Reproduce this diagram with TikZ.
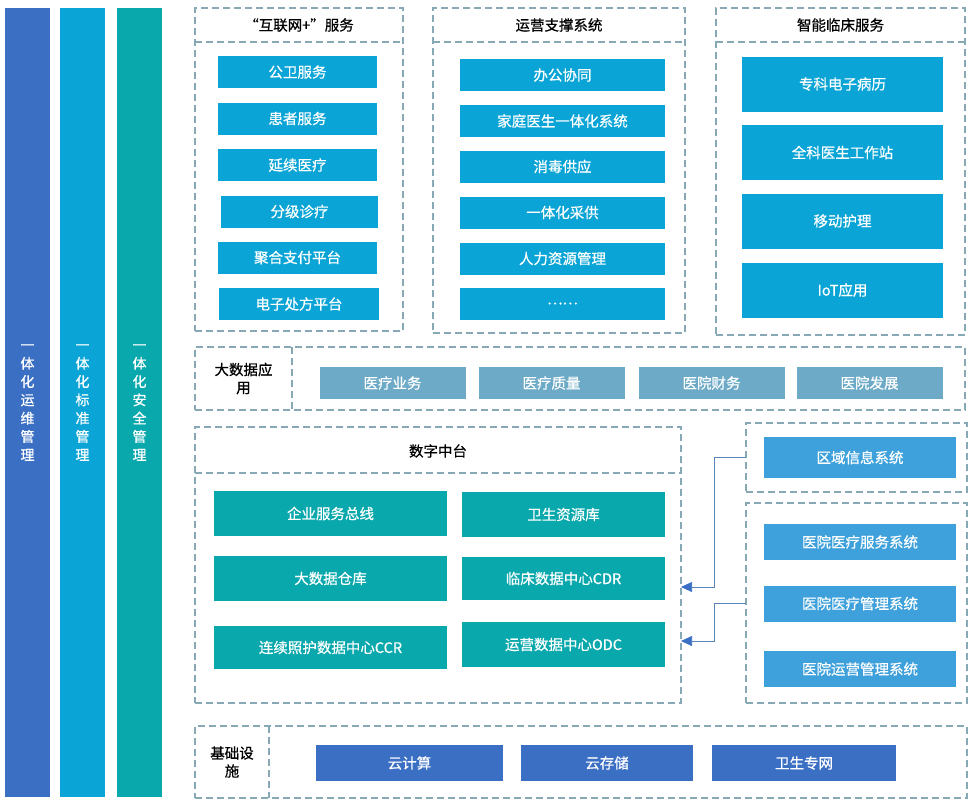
\documentclass[tikz,border=0pt]{standalone}
\usepackage{fontspec}
\setmainfont{Noto Sans CJK SC}
\newfontfamily\boxfont{Noto Sans CJK SC}[FakeBold=0.6]
\usetikzlibrary{positioning}
\usetikzlibrary{calc}
\usetikzlibrary{arrows.meta}
\usepackage{xcolor}

\definecolor{bluec}{HTML}{3A6FC4}
\definecolor{cyanc}{HTML}{0AA5D6}
\definecolor{tealc}{HTML}{08A8AC}
\definecolor{steelc}{HTML}{6CAAC7}
\definecolor{skyc}{HTML}{3EA1DB}
\definecolor{dashc}{HTML}{86A9B5}
\definecolor{linkc}{HTML}{5B84B8}

\begin{document}
\begin{tikzpicture}[x=1pt, y=-1pt,
    every node/.style={font=\boxfont\fontsize{14.5}{18}\selectfont, inner sep=0pt, outer sep=0pt},
    grp/.style={draw=dashc, dash pattern=on 7pt off 4pt, line width=1.3pt},
    grpline/.style={draw=dashc, dash pattern=on 7pt off 4pt, line width=1.3pt},
    ttl/.style={text=black},
    bar/.style={minimum width=45, minimum height=789, text=white, align=center, font=\boxfont\fontsize{14}{18.3}\selectfont},
    cbox/.style={fill=cyanc, text=white},
    tbox/.style={fill=tealc, text=white},
    sbox/.style={fill=steelc, text=white, minimum width=146, minimum height=32},
    kbox/.style={fill=skyc, text=white, minimum width=192},
    bbox/.style={fill=bluec, text=white, minimum height=36},
    link/.style={draw=linkc, line width=0.7pt, -{Triangle[length=11pt, width=10pt, color=bluec]}}]

    \useasboundingbox (0,0) rectangle (974,809);

    % management bars
    \node[bar, fill=bluec] (ops) at (27.5, 402.5) {一\\体\\化\\运\\维\\管\\理};
    \node[bar, fill=cyanc] (std) at (82.5, 402.5) {一\\体\\化\\标\\准\\管\\理};
    \node[bar, fill=tealc] (sec) at (139.5, 402.5) {一\\体\\化\\安\\全\\管\\理};

    % internet plus services
    \node[grp, minimum width=208, minimum height=323] (net) at (299, 169.5) {};
    \draw[grpline] ($(net.north west)+(0,34)$) -- ($(net.north east)+(0,34)$);
    \node[ttl] (netT) at ($(net.north)+(0,17)$) {“互联网+”服务};
    \node[cbox, minimum width=159, minimum height=32] (pub) at (297.5, 72) {公卫服务};
    \node[cbox, minimum width=159, minimum height=32] (pat) at (297.5, 118.5) {患者服务};
    \node[cbox, minimum width=159, minimum height=32] (cont) at (297.5, 165) {延续医疗};
    \node[cbox, minimum width=157, minimum height=32] (tier) at (299.5, 211.5) {分级诊疗};
    \node[cbox, minimum width=159, minimum height=32] (pay) at (297.5, 257.5) {聚合支付平台};
    \node[cbox, minimum width=160, minimum height=32] (rx) at (299, 304) {电子处方平台};

    % operation support
    \node[grp, minimum width=252, minimum height=325] (sup) at (559, 170.5) {};
    \draw[grpline] ($(sup.north west)+(0,34)$) -- ($(sup.north east)+(0,34)$);
    \node[ttl] (supT) at ($(sup.north)+(0,17)$) {运营支撑系统};
    \node[cbox, minimum width=205, minimum height=32] (office) at (562.5, 75) {办公协同};
    \node[cbox, minimum width=205, minimum height=32] (family) at (562.5, 121) {家庭医生一体化系统};
    \node[cbox, minimum width=205, minimum height=32] (steril) at (562.5, 166.5) {消毒供应};
    \node[cbox, minimum width=205, minimum height=32] (purch) at (562.5, 212.5) {一体化采供};
    \node[cbox, minimum width=205, minimum height=32] (hr) at (562.5, 258.5) {人力资源管理};
    \node[cbox, minimum width=205, minimum height=32] (more) at (562.5, 303.5) {……};

    % smart clinical services
    \node[grp, minimum width=249, minimum height=327] (cli) at (840.5, 171.5) {};
    \draw[grpline] ($(cli.north west)+(0,34)$) -- ($(cli.north east)+(0,34)$);
    \node[ttl] (cliT) at ($(cli.north)+(0,17)$) {智能临床服务};
    \node[cbox, minimum width=201, minimum height=55] (emr) at (842.5, 84) {专科电子病历};
    \node[cbox, minimum width=201, minimum height=55] (gp) at (842.5, 152.5) {全科医生工作站};
    \node[cbox, minimum width=201, minimum height=55] (nurse) at (842.5, 221) {移动护理};
    \node[cbox, minimum width=201, minimum height=55] (iot) at (842.5, 290) {IoT应用};

    % big data
    \node[grp, minimum width=770, minimum height=63] (bd) at (580, 378.5) {};
    \draw[grpline] ($(bd.north west)+(97,0)$) -- ($(bd.south west)+(97,0)$);
    \node[ttl, align=center] (bdT) at (243.5, 378.5) {大数据应\\用};
    \node[sbox] (biz) at (392.5, 383) {医疗业务};
    \node[sbox] (qual) at (551.5, 383) {医疗质量};
    \node[sbox] (fin) at (711.5, 383) {医院财务};
    \node[sbox] (dev) at (869.5, 383) {医院发展};

    % digital middle platform
    \node[grp, minimum width=486, minimum height=276] (dp) at (438, 565) {};
    \draw[grpline] ($(dp.north west)+(0,46)$) -- ($(dp.north east)+(0,46)$);
    \node[ttl] (dpT) at (438, 451) {数字中台};
    \node[tbox, minimum width=233, minimum height=45] (esb) at (330.5, 513.5) {企业服务总线};
    \node[tbox, minimum width=203, minimum height=45] (res) at (563.5, 514.5) {卫生资源库};
    \node[tbox, minimum width=233, minimum height=45] (dw) at (330.5, 578.5) {大数据仓库};
    \node[tbox, minimum width=203, minimum height=43] (cdr) at (563.5, 578.5) {临床数据中心CDR};
    \node[tbox, minimum width=233, minimum height=43] (ccr) at (330.5, 647.5) {连续照护数据中心CCR};
    \node[tbox, minimum width=203, minimum height=45] (odc) at (563.5, 644.5) {运营数据中心ODC};

    % source systems
    \node[grp, minimum width=221, minimum height=69] (reg) at (856.5, 457.5) {};
    \node[kbox, minimum height=41] (regS) at (860, 457.5) {区域信息系统};
    \node[grp, minimum width=221, minimum height=200] (hosp) at (856.5, 603) {};
    \node[kbox, minimum height=36] (his) at (860, 542) {医院医疗服务系统};
    \node[kbox, minimum height=36] (hms) at (860, 603.5) {医院医疗管理系统};
    \node[kbox, minimum height=36] (hos) at (860, 669) {医院运营管理系统};

    \coordinate (in1) at (681, 587);
    \coordinate (in2) at (681, 641);
    \draw[link] (reg.west) -- ++(-32,0) |- (in1);
    \draw[link] (hosp.west) -- ++(-32,0) |- (in2);

    % infrastructure
    \node[grp, minimum width=772, minimum height=72] (inf) at (581, 762) {};
    \draw[grpline] ($(inf.north west)+(74,0)$) -- ($(inf.south west)+(74,0)$);
    \node[ttl, align=center] (infT) at (232, 762) {基础设\\施};
    \node[bbox, minimum width=187] (comp) at (409.5, 763) {云计算};
    \node[bbox, minimum width=172] (stor) at (607, 763) {云存储};
    \node[bbox, minimum width=184] (netw) at (804, 763) {卫生专网};
\end{tikzpicture}
\end{document}
